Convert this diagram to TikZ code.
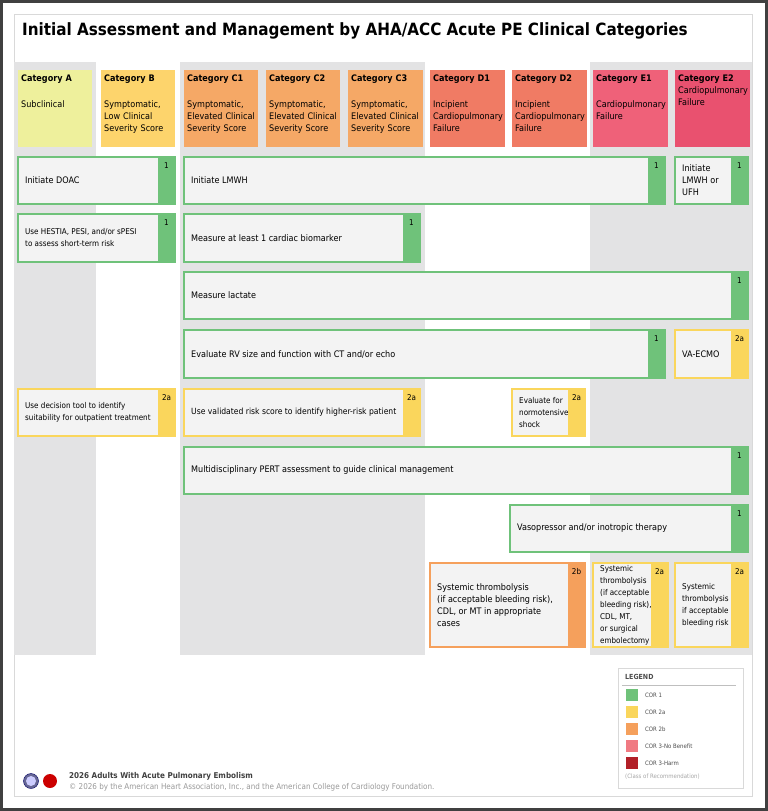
\documentclass[tikz,border=0pt]{standalone}
\usepackage{fontspec}
\setmainfont{DejaVu Sans Condensed}
\definecolor{gA}{HTML}{EEF09C}
\definecolor{gB}{HTML}{FDD46C}
\definecolor{gC}{HTML}{F5A866}
\definecolor{gD}{HTML}{F07B64}
\definecolor{gE}{HTML}{EF6179}
\definecolor{gEE}{HTML}{E9516F}
\definecolor{cg}{HTML}{6FC27A}
\definecolor{cy}{HTML}{FAD65C}
\definecolor{co}{HTML}{F5A05C}
\definecolor{cp}{HTML}{F07A82}
\definecolor{cr}{HTML}{B22028}
\definecolor{bgc}{HTML}{E3E3E4}
\definecolor{boxf}{HTML}{F3F3F3}
\tikzset{x=1pt,y=-1pt,
 cat/.style={font=\fontsize{9}{12}\selectfont,align=left,anchor=north west,inner sep=0pt,text width=72pt},
 btxt/.style={font=\fontsize{9}{12}\selectfont,align=left,anchor=west,inner sep=0pt},
 tabt/.style={font=\fontsize{8}{9}\selectfont,anchor=north,inner sep=0pt},
 legt/.style={font=\fontsize{6}{7}\selectfont\color{black!70},anchor=west,inner sep=0pt}}
% name x1 y1 x2 y2 colour label text
\newcommand\rbox[8]{%
 \draw[#6,line width=1.2pt,fill=boxf] (#2,#3) rectangle (#4,#5);
 \fill[#6] (#4-17,#3) rectangle (#4,#5);
 \node[tabt] at (#4-8.5,#3+5) {#7};
 \node[btxt] (#1) at (#2+7,{(#3+#5)/2}) {#8};}
\newcommand\sm{\fontsize{8}{10.5}\selectfont}
\newcommand\smm{\fontsize{8}{10}\selectfont}
\begin{document}
\begin{tikzpicture}
\fill[black!75] (0,0) rectangle (768,811);
\fill[white] (3,3) rectangle (765,808);
\draw[black!15,line width=0.8pt] (14,14) rectangle (752,796);
\node[font=\fontsize{16.9}{19}\selectfont\bfseries,anchor=west,inner sep=0pt] (title) at (22,31) {Initial Assessment and Management by AHA/ACC Acute PE Clinical Categories};
% gray columns
\fill[bgc] (14,62) rectangle (96,655);
\fill[bgc] (180,62) rectangle (425,655);
\fill[bgc] (590,62) rectangle (752,655);
% categories
\fill[gA] (18,70) rectangle (92,147); \node[cat] (ca) at (21,75) {\textbf{Category A}\\[14pt]Subclinical};
\fill[gB] (101,70) rectangle (175,147); \node[cat] (cb) at (104,75) {\textbf{Category B}\\[14pt]Symptomatic,\\Low Clinical\\Severity Score};
\fill[gC] (184,70) rectangle (258,147); \node[cat] (cc1) at (187,75) {\textbf{Category C1}\\[14pt]Symptomatic,\\Elevated Clinical\\Severity Score};
\fill[gC] (266,70) rectangle (340,147); \node[cat] (cc2) at (269,75) {\textbf{Category C2}\\[14pt]Symptomatic,\\Elevated Clinical\\Severity Score};
\fill[gC] (348,70) rectangle (423,147); \node[cat] (cc3) at (351,75) {\textbf{Category C3}\\[14pt]Symptomatic,\\Elevated Clinical\\Severity Score};
\fill[gD] (430,70) rectangle (505,147); \node[cat] (cd1) at (433,75) {\textbf{Category D1}\\[14pt]Incipient\\Cardiopulmonary\\Failure};
\fill[gD] (512,70) rectangle (587,147); \node[cat] (cd2) at (515,75) {\textbf{Category D2}\\[14pt]Incipient\\Cardiopulmonary\\Failure};
\fill[gE] (593,70) rectangle (668,147); \node[cat] (ce1) at (596,75) {\textbf{Category E1}\\[14pt]Cardiopulmonary\\Failure};
\fill[gEE] (675,70) rectangle (750,147); \node[cat] (ce2) at (678,75) {\textbf{Category E2}\\Cardiopulmonary\\Failure};
% rows
\rbox{b1}{18}{157}{175}{204}{cg}{1}{Initiate DOAC}
\rbox{b2}{184}{157}{665}{204}{cg}{1}{Initiate LMWH}
\rbox{b3}{675}{157}{748}{204}{cg}{1}{Initiate\\LMWH or\\UFH}
\rbox{b4}{18}{214}{175}{262}{cg}{1}{\sm Use HESTIA, PESI, and/or sPESI\\\sm to assess short-term risk}
\rbox{b5}{184}{214}{420}{262}{cg}{1}{Measure at least 1 cardiac biomarker}
\rbox{b6}{184}{272}{748}{319}{cg}{1}{Measure lactate}
\rbox{b7}{184}{330}{665}{378}{cg}{1}{Evaluate RV size and function with CT and/or echo}
\rbox{b8}{675}{330}{748}{378}{cy}{2a}{VA-ECMO}
\rbox{b9}{18}{389}{175}{436}{cy}{2a}{\sm Use decision tool to identify\\\sm suitability for outpatient treatment}
\rbox{b10}{184}{389}{420}{436}{cy}{2a}{\fontsize{8.5}{11}\selectfont Use validated risk score to identify higher-risk patient}
\rbox{b11}{512}{389}{585}{436}{cy}{2a}{\sm Evaluate for\\\sm normotensive\\\sm shock}
\rbox{b12}{184}{447}{748}{494}{cg}{1}{Multidisciplinary PERT assessment to guide clinical management}
\rbox{b13}{510}{505}{748}{552}{cg}{1}{Vasopressor and/or inotropic therapy}
\rbox{b14}{430}{563}{585}{647}{co}{2b}{Systemic thrombolysis\\(if acceptable bleeding risk),\\CDL, or MT in appropriate\\cases}
\rbox{b15}{593}{563}{668}{647}{cy}{2a}{\smm Systemic\\\smm thrombolysis\\\smm (if acceptable\\\smm bleeding risk),\\\smm CDL, MT,\\\smm or surgical\\\smm embolectomy}
\rbox{b16}{675}{563}{748}{647}{cy}{2a}{\sm Systemic\\\sm thrombolysis\\\sm if acceptable\\\sm bleeding risk}
% legend
\draw[black!15,line width=0.8pt,fill=white] (618,668) rectangle (743,788);
\node[font=\fontsize{7}{8}\selectfont\bfseries\color{black!70},anchor=west,inner sep=0pt] (leg) at (625,677) {LEGEND};
\draw[black!25,line width=0.8pt] (622,685) -- (736,685);
\foreach \c/\t [count=\i] in {cg/COR 1,cy/COR 2a,co/COR 2b,cp/COR 3-No Benefit,cr/COR 3-Harm}{
 \fill[\c] (626,{689+(\i-1)*17}) rectangle (638,{701+(\i-1)*17});
 \node[legt] (l\i) at (645,{695+(\i-1)*17}) {\t};}
\node[legt,text=black!35] (lc) at (625,777) {(Class of Recommendation)};
% footer
\filldraw[fill=blue!30!black!60,draw=blue!40!black] (31,781) circle (7.5);
\fill[white!80!blue] (31,781) circle (5);
\fill[red!80!black] (50,781) circle (7);
\node[font=\fontsize{8}{9}\selectfont\bfseries\color{black!75},anchor=west,inner sep=0pt] (f1) at (69,776) {2026 Adults With Acute Pulmonary Embolism};
\node[font=\fontsize{8}{9}\selectfont\color{black!40},anchor=west,inner sep=0pt] (f2) at (69,787) {© 2026 by the American Heart Association, Inc., and the American College of Cardiology Foundation.};
\end{tikzpicture}
\end{document}
